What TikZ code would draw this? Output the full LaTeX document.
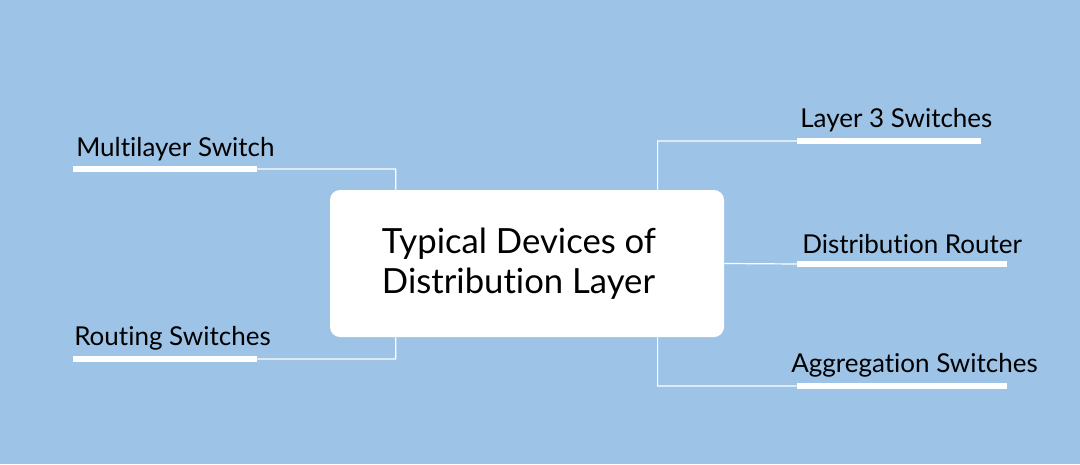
\documentclass[tikz,border=0pt]{standalone}
\usepackage{fontspec}
\setmainfont{Lato}[Ligatures=NoCommon]
\usepackage{tikz}
\usetikzlibrary{positioning, calc}
\definecolor{bgblue}{HTML}{9DC3E6}
\tikzset{hub node/.style={rectangle, fill=white, rounded corners=7.5pt, minimum width=295.5pt, minimum height=110.25pt, inner sep=0pt},
	hub text/.style={align=left, inner sep=0pt, font=\fontsize{26}{30}\selectfont},
	bar node/.style={rectangle, fill=white, inner sep=0pt, minimum height=4.5pt, minimum width=138pt},
	wide bar/.style={bar node, minimum width=157.5pt},
	item text/.style={anchor=base west, inner sep=0pt, font=\fontsize{19.5}{22}\selectfont},
	link/.style={draw=white, line width=0.9pt},}

\begin{document}
\begin{tikzpicture}[x=0.75pt, y=-0.75pt]
				% Background
				\fill[bgblue] (0,0) rectangle (1080,464);
				\useasboundingbox (0,0) rectangle (1080,464);
				% Central topic
				\node[hub node] (hub) at (527,263.5) {};
				\node[hub text] (title) at ([xshift=-6pt]hub.center) {Typical Devices of\\Distribution Layer};
				% Underlines
				\node[bar node] (mlbar) at (165,169) {};
				\node[bar node] (rsbar) at (165,359) {};
				\node[bar node] (l3bar) at (889,141) {};
				\node[wide bar] (drbar) at (902,264) {};
				\node[wide bar] (agbar) at (902,386) {};
				% Labels
				\node[item text] (ml) at (76,156) {Multilayer Switch};
				\node[item text] (rs) at (74,345) {Routing Switches};
				\node[item text] (l3) at (800,127) {Layer 3 Switches};
				\node[item text] (dr) at (802,253) {Distribution Router};
				\node[item text] (ag) at (791,372) {Aggregation Switches};
				% Links
				\path[link]
				(mlbar.east) -| ([xshift=49.5pt]hub.north west)
				(rsbar.east) -| ([xshift=49.5pt]hub.south west)
				([xshift=-50pt]hub.north east) |- (l3bar.west)
				(hub.east) -- (drbar.west)
				([xshift=-50pt]hub.south east) |- (agbar.west);
			\end{tikzpicture}
\end{document}
